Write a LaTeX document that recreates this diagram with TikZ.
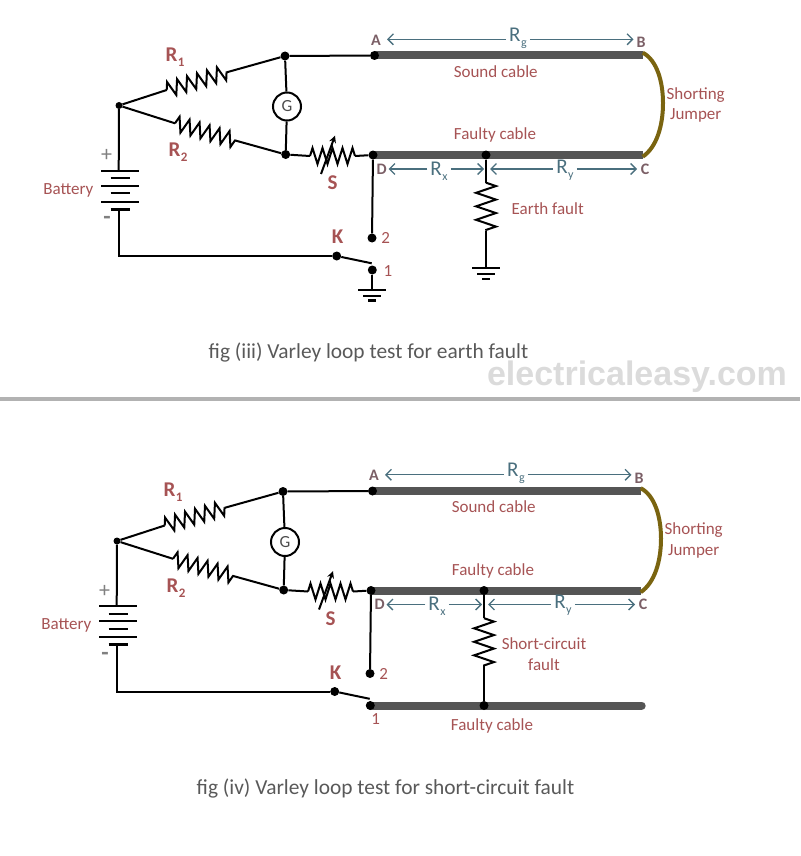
\documentclass[tikz,border=0pt]{standalone}
\usepackage{fontspec}
\setmainfont{Carlito}
\newfontfamily\markfont{Liberation Sans}
\usetikzlibrary{arrows.meta,decorations.pathmorphing,backgrounds}

\definecolor{labelred}{HTML}{A65354}
\definecolor{pointgray}{HTML}{7B5F66}
\definecolor{dimblue}{HTML}{4A6F7E}
\definecolor{cablegray}{HTML}{555555}
\definecolor{jumperbrown}{HTML}{7A6410}

\newcommand{\subone}[1]{\kern0.5pt\raisebox{-5pt}{\fontsize{13}{13}\selectfont #1}}
\newcommand{\subtwo}[1]{\kern0.5pt\raisebox{-5pt}{\fontsize{12}{12}\selectfont #1}}

\tikzset{
    wire/.style={line width=2pt, black},
    dot/.style={circle, fill=black, inner sep=0pt, minimum size=9pt},
    smalldot/.style={circle, fill=black, inner sep=0pt, minimum size=7pt},
    res/.style 2 args={wire, decorate, decoration={zigzag, segment length=#1, amplitude=#2}},
    cable/.style={line width=8pt, cablegray},
    jumper/.style={line width=4pt, jumperbrown},
    dim/.style={line width=1.3pt, dimblue, -{Straight Barb[length=5.5pt,width=11pt]}},
    txt/.style={text=labelred, font=\fontsize{17}{19}\selectfont, inner sep=1pt},
    big/.style={text=labelred, font=\fontsize{21}{22}\selectfont\bfseries, inner sep=1pt},
    point/.style={text=pointgray, font=\fontsize{16}{18}\selectfont\bfseries, inner sep=0pt},
    rlabel/.style={text=dimblue, font=\fontsize{21}{22}\selectfont, inner sep=3pt},
    caption/.style={text=black!65, font=\fontsize{21.4}{24}\selectfont, inner sep=0pt},
    pics/gnd/.style={code={
        \draw[wire] (-14,0) -- (14,0);
        \draw[wire] (-9,5.5) -- (9,5.5);
        \draw[line width=2.5pt] (-4,10.5) -- (4,10.5);
    }},
}

\begin{document}
\begin{tikzpicture}[x=1pt, y=-1pt]
    \useasboundingbox (0,0) rectangle (800,856);

    % both circuits
    \foreach \p/\dx/\dy in {t/0/0, b/-2/435.5} {
    \begin{scope}[shift={(\dx,\dy)}]
        \node[smalldot] (j\p) at (119,105.5) {};
        \node[dot] (u\p) at (285,56) {};
        \node[dot] (v\p) at (285.7,154.5) {};
        \node[dot] (A\p) at (374.5,55.5) {};
        \node[dot] (D\p) at (373,155) {};
        \node[dot] (F\p) at (486,155) {};
        \node[dot] (two\p) at (372,238) {};
        \node[dot] (one\p) at (372.3,270) {};
        \node[dot] (K\p) at (336.7,256) {};
        \node[draw, line width=2pt, circle, minimum size=28pt, inner sep=0pt, font=\fontsize{17}{19}\selectfont, text=black!70] (G\p) at (287,106.5) {G};

        \coordinate (r1a\p) at (166.7,90);
        \coordinate (r1b\p) at (226.7,72.3);
        \coordinate (r2a\p) at (175,123.3);
        \coordinate (r2b\p) at (236,140.7);
        \coordinate (sa\p) at (310,156);
        \coordinate (sb\p) at (355,156);
        \coordinate (fa\p) at (486,182.7);
        \coordinate (fb\p) at (486,230.7);
        \coordinate (bt\p) at (118.7,170.7);
        \coordinate (bb\p) at (118.7,209.3);
        \coordinate (bc\p) at (118.7,256);
        \coordinate (B\p) at (642.7,55.5);
        \coordinate (C\p) at (642.7,155);

        \begin{scope}[on background layer]
            \draw[cable] (A\p.center) -- (B\p);
            \draw[cable] (D\p.center) -- (C\p);
        \end{scope}
        \draw[jumper] (642.7,52.7) .. controls (657,60) and (663,82) .. (663,103) .. controls (663,125) and (657,147) .. (642.7,156.7);

        \draw[wire] (j\p) -- (r1a\p);
        \draw[res={10.4pt}{7.5pt}] (r1a\p) -- (r1b\p);
        \draw[wire] (r1b\p) -- (u\p);
        \draw[wire] (j\p) -- (r2a\p);
        \draw[res={10.4pt}{7.5pt}] (r2a\p) -- (r2b\p);
        \draw[wire] (r2b\p) -- (v\p);
        \draw[wire] (u\p) -- (A\p);
        \draw[wire] (u\p) -- (G\p);
        \draw[wire] (G\p) -- (v\p);
        \draw[wire] (v\p) -- (sa\p);
        \draw[res={10pt}{8pt}] (sa\p) -- (sb\p);
        \draw[wire] (sb\p) -- (D\p);
        \draw[wire, -{Stealth[length=7pt,width=7pt]}] (321,174) -- (335,135.7);
        \draw[wire] (D\p) -- (two\p);
        \draw[wire] (F\p) -- (fa\p);
        \draw[res={13.5pt}{10pt}] (fa\p) -- (fb\p);

        % battery
        \draw[wire] (j\p) -- (bt\p);
        \foreach \y in {170.7,185.7,201.7}
            \draw[wire] (101,\y) -- (139,\y);
        \foreach \y in {178.3,193.3}
            \draw[wire] (110.7,\y) -- (130,\y);
        \draw[line width=2.8pt] (110.7,209.3) -- (130,209.3);
        \draw[wire] (bb\p) -- (bc\p) -- (K\p);
        \draw[wire] (K\p) -- (371.7,263.3);

        % labels
        \node[big] (r1l\p) at (175,57) {R\subone{1}};
        \node[big] (r2l\p) at (178,152.5) {R\subone{2}};
        \node[big] (sl\p) at (332.7,183) {S};
        \node[big] (kl\p) at (337.7,237) {K};
        \node[txt] (bat\p) at (68.3,190) {Battery};
        \node[text=black!50, font=\fontsize{22}{22}\selectfont, inner sep=0pt] (plus\p) at (106.7,155.5) {+};
        \node[text=black!50, font=\fontsize{24}{24}\selectfont\bfseries, inner sep=0pt] (minus\p) at (107,220.5) {-};
        \node[txt] (twol\p) at (385.7,238) {2};
        \node[point] (al\p) at (376,40) {A};
        \node[point] (bl\p) at (641,42.5) {B};
        \node[point] (cl\p) at (645,169) {C};
        \node[point] (dl\p) at (381.7,169) {D};
        \node[txt] (snd\p) at (495.7,71.5) {Sound cable};
        \node[txt] (fty\p) at (495,135) {Faulty cable};
        \node[txt, align=center, font=\fontsize{17}{20.5}\selectfont] (sj\p) at (695.7,105) {Shorting\\Jumper};

        % lengths
        \coordinate (gl\p) at (387,39.3);
        \coordinate (gr\p) at (633.5,39.3);
        \coordinate (xl\p) at (388.5,169);
        \coordinate (xr\p) at (484,169);
        \coordinate (yl\p) at (490,169);
        \coordinate (yr\p) at (637,169);
        \node[rlabel] (rg\p) at (518,38) {R\subtwo{g}};
        \node[rlabel] (rx\p) at (439,171) {R\subtwo{x}};
        \node[rlabel] (ry\p) at (565,170) {R\subtwo{y}};
        \draw[dim] (gl\p -| rg\p.west) -- (gl\p);
        \draw[dim] (gr\p -| rg\p.east) -- (gr\p);
        \draw[dim] (xl\p -| rx\p.west) -- (xl\p);
        \draw[dim] (xr\p -| rx\p.east) -- (xr\p);
        \draw[dim] (yl\p -| ry\p.west) -- (yl\p);
        \draw[dim] (yr\p -| ry\p.east) -- (yr\p);
    \end{scope}
    }

    % earth fault
    \coordinate (gf) at (486,268.3);
    \coordinate (gk) at (372.3,290);
    \draw[wire] (fbt) -- (gf);
    \draw[wire] (onet) -- (gk);
    \pic at (gf) {gnd};
    \pic at (gk) {gnd};
    \node[txt] (onelt) at (388,271) {1};
    \node[txt] (earth) at (547.7,208.5) {Earth fault};
    \node[caption] (capt) at (368.5,353) {fig (iii) Varley loop test for earth fault};
    \node[font=\markfont\fontsize{34}{36}\selectfont\bfseries, text=black!14, inner sep=0pt] (mark) at (637,377) {electricaleasy.com};

    \coordinate (rl) at (0,399);
    \coordinate (rr) at (800,399);
    \draw[line width=4pt, black!30] (rl) -- (rr);

    % short-circuit fault
    \coordinate (third) at (641.7,705.5);
    \node[dot] (Fs) at (484,705.5) {};
    \begin{scope}[on background layer]
        \draw[cable, line cap=round] (oneb.center) -- (third);
    \end{scope}
    \draw[wire] (fbb) -- (Fs);
    \node[txt] (onelb) at (375.7,719) {1};
    \node[txt] (ftys) at (492,726) {Faulty cable};
    \node[txt, align=center, font=\fontsize{17}{20.5}\selectfont] (sc) at (544,654) {Short-circuit\\fault};
    \node[caption] (capb) at (385.5,789) {fig (iv) Varley loop test for short-circuit fault};
\end{tikzpicture}
\end{document}
